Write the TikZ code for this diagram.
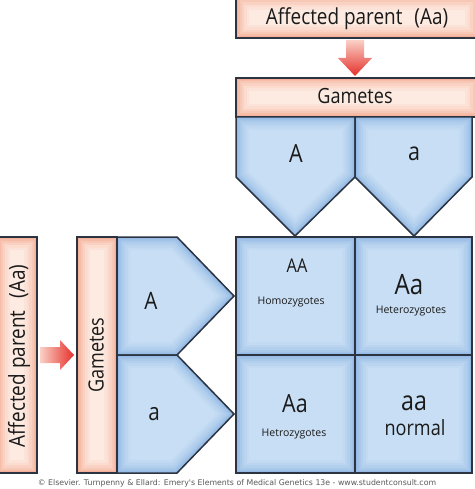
\documentclass[tikz,border=0pt]{standalone}
\usepackage{fontspec}
\usetikzlibrary{calc}
\setmainfont{Open Sans}[FakeStretch=0.86]
\newfontfamily\handfont{Open Sans}
\newfontfamily\copyfont{DejaVu Sans}
\definecolor{bordc}{HTML}{2B3440}
\definecolor{bluec}{HTML}{C8DEF4}
\definecolor{bluee}{HTML}{8DB5E3}
\definecolor{salc}{HTML}{FDEAE1}
\definecolor{sale}{HTML}{F4A890}
\definecolor{arrlight}{HTML}{FAD0C6}
\definecolor{arrred}{HTML}{E5302A}
\definecolor{txtc}{HTML}{1A1A1A}
\tikzset{
  border/.style={draw=bordc, line width=1.5pt, line join=miter},
  lbl/.style={inner sep=0pt, text=txtc},
  hand/.style={inner sep=0pt, text=txtc, font=\handfont\fontsize{10.5}{12}\selectfont},
}
\newcommand\glowfill[3]{%
  \begin{scope}
    \clip #1;
    \fill[#2] #1;
    \draw[#3!10!#2, line width=26pt] #1;
    \draw[#3!22!#2, line width=21pt] #1;
    \draw[#3!36!#2, line width=16pt] #1;
    \draw[#3!52!#2, line width=11pt] #1;
    \draw[#3!70!#2, line width=7pt] #1;
    \draw[#3!88!#2, line width=3.5pt] #1;
  \end{scope}
  \draw[border] #1;}
\begin{document}
\begin{tikzpicture}[x=1pt,y=-1pt]
\useasboundingbox (0,0) rectangle (474,489);
\fill[white] (0,0) rectangle (474,489);

% ---------- top parent ----------
\glowfill{(236,-3) rectangle (478,38)}{salc}{sale}
\node[lbl, font=\fontsize{22}{24}\selectfont] (tparent) at (357,19) {Affected parent\hspace{12pt}(Aa)};

% top arrow
\coordinate (tarrtail) at (355,40);
\coordinate (tarrtip) at (355,76);
\shade[top color=arrlight, bottom color=arrred]
  ($(tarrtail)+(-9,0)$) -- ($(tarrtail)+(9,0)$) -- ($(tarrtip)+(9,-18)$) -- ($(tarrtip)+(17,-18)$)
  -- (tarrtip) -- ($(tarrtip)+(-17,-18)$) -- ($(tarrtip)+(-9,-18)$) -- cycle;

% top gametes
\glowfill{(236,78) rectangle (478,117)}{salc}{sale}
\node[lbl, font=\fontsize{21}{24}\selectfont] (tgam) at (355,96) {Gametes};

% top gamete pentagons
\glowfill{(236,117) -- (355,117) -- (355,177) -- (295,236) -- (236,177) -- cycle}{bluec}{bluee}
\glowfill{(355,117) -- (472,117) -- (472,177) -- (414,236) -- (355,177) -- cycle}{bluec}{bluee}
\node[lbl, font=\fontsize{25}{28}\selectfont] (tA) at (296,154) {A};
\node[lbl, font=\fontsize{25}{28}\selectfont] (ta) at (414,154) {a};

% ---------- left parent ----------
\glowfill{(-3,237) rectangle (37,473)}{salc}{sale}
\node[lbl, rotate=90, font=\fontsize{22}{24}\selectfont] (lparent) at (19,356) {Affected parent\hspace{12pt}(Aa)};

% left arrow
\coordinate (larrtail) at (40,355);
\coordinate (larrtip) at (74,355);
\shade[left color=arrlight, right color=arrred]
  ($(larrtail)+(0,-8)$) -- ($(larrtail)+(0,8)$) -- ($(larrtip)+(-14,8)$) -- ($(larrtip)+(-14,15)$)
  -- (larrtip) -- ($(larrtip)+(-14,-15)$) -- ($(larrtip)+(-14,-8)$) -- cycle;

% left gametes
\glowfill{(77,237) rectangle (117,473)}{salc}{sale}
\node[lbl, rotate=90, font=\fontsize{21}{24}\selectfont] (lgam) at (96,355) {Gametes};

% left gamete pentagons
\glowfill{(117,237) -- (177,237) -- (234,296) -- (177,355) -- (117,355) -- cycle}{bluec}{bluee}
\glowfill{(117,355) -- (177,355) -- (234,414) -- (177,473) -- (117,473) -- cycle}{bluec}{bluee}
\node[lbl, font=\fontsize{24}{28}\selectfont] (lA) at (151,301) {A};
\node[lbl, font=\fontsize{24}{28}\selectfont] (la) at (154,414) {a};

% ---------- grid ----------
\glowfill{(236,237) rectangle (355,355)}{bluec}{bluee}
\glowfill{(355,237) rectangle (472,355)}{bluec}{bluee}
\glowfill{(236,355) rectangle (355,473)}{bluec}{bluee}
\glowfill{(355,355) rectangle (472,473)}{bluec}{bluee}

\node[lbl, font=\fontsize{19}{22}\selectfont] (AA) at (297,266) {AA};
\node[hand] (homo) at (291,302) {Homozygotes};
\node[lbl, font=\fontsize{28}{30}\selectfont] (Aa1) at (409,285) {Aa};
\node[hand] (het1) at (411,311) {Heterozygotes};
\node[lbl, font=\fontsize{25}{28}\selectfont] (Aa2) at (295,404) {Aa};
\node[hand] (het2) at (294,434) {Hetrozygotes};
\node[lbl, font=\fontsize{27}{30}\selectfont] (aa) at (414,403) {aa};
\node[lbl, font=\fontsize{21}{24}\selectfont] (normal) at (415,428) {normal};

% copyright
\node[inner sep=0pt, text=black!65, font=\copyfont\fontsize{7.8}{9}\selectfont] (copy) at (237,483)
  {© Elsevier. Turnpenny \& Ellard: Emery's Elements of Medical Genetics 13e - www.studentconsult.com};
\end{tikzpicture}
\end{document}
